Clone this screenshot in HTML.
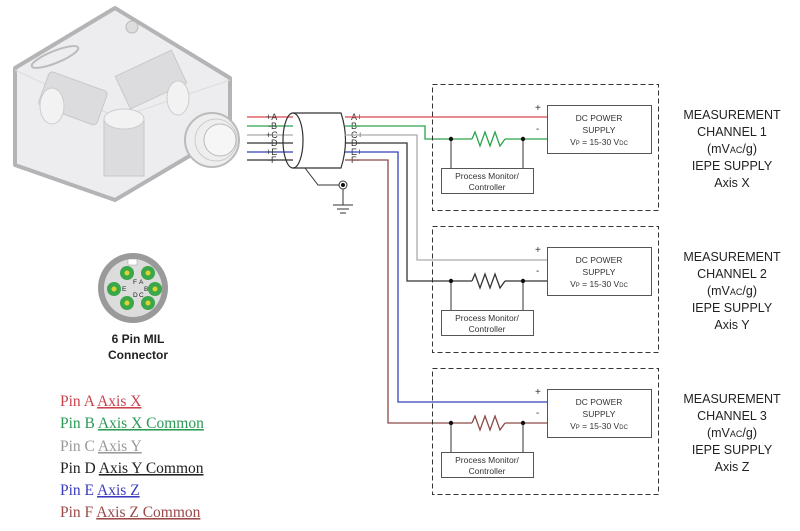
<!DOCTYPE html>
<html><head><style>
body{margin:0;background:#fff;}
svg{display:block;}
.t{font-family:"Liberation Sans",sans-serif;}
.s{font-family:"Liberation Serif",serif;font-size:15.5px;}
</style></head><body>
<svg width="800" height="531" viewBox="0 0 800 531" xmlns="http://www.w3.org/2000/svg">
<!-- sensor -->
<polygon points="115,8 15,68 15,165 115,200 230,132 230,78" fill="#ededef" stroke="#b4b4b6" stroke-width="4" stroke-linejoin="round"/>
<line x1="15" y1="70" x2="118" y2="118" stroke="#dcdcdc"/><line x1="118" y1="118" x2="230" y2="80" stroke="#dcdcdc"/>
<rect x="42" y="80" width="62" height="36" rx="4" fill="#dcdcde" stroke="#c8c8ca" transform="rotate(20 72 98)"/>
<ellipse cx="52" cy="106" rx="12" ry="18" fill="#f2f2f3" stroke="#ccc"/>
<rect x="120" y="62" width="62" height="36" fill="#dcdcde" stroke="#c8c8ca" transform="rotate(-25 150 80)"/>
<ellipse cx="178" cy="98" rx="11" ry="17" fill="#f2f2f3" stroke="#ccc"/>
<rect x="104" y="120" width="40" height="56" fill="#dcdcde" stroke="#c8c8ca"/>
<ellipse cx="124" cy="119" rx="20" ry="10" fill="#f2f2f3" stroke="#ccc"/>
<circle cx="132" cy="27" r="6" fill="#ddd" stroke="#bbb"/>
<ellipse cx="55" cy="57" rx="25" ry="6" fill="none" stroke="#bbb" stroke-width="2" transform="rotate(-22 55 57)"/>
<circle cx="212" cy="140" r="27" fill="#eee" stroke="#bbb" stroke-width="2"/>
<circle cx="216" cy="140" r="21" fill="none" stroke="#ccc"/>
<circle cx="220" cy="140" r="16" fill="#f6f6f6" stroke="#bbb"/>
<!-- cable left wires -->
<g stroke-width="1.3">
<line x1="247" y1="117" x2="293" y2="117" stroke="#d9484f"/>
<line x1="247" y1="126" x2="293" y2="126" stroke="#2aa44b"/>
<line x1="247" y1="135" x2="293" y2="135" stroke="#aaa"/>
<line x1="247" y1="143" x2="293" y2="143" stroke="#333"/>
<line x1="247" y1="152" x2="293" y2="152" stroke="#3442b8"/>
<line x1="247" y1="160" x2="293" y2="160" stroke="#333"/>
</g>
<path d="M293,113 L341,113 Q350,140 341,168 L293,168" fill="#fff" stroke="#333" stroke-width="1.2"/>
<ellipse cx="293" cy="140.5" rx="10" ry="27.5" fill="none" stroke="#333" stroke-width="1.2"/>
<g class="t" font-size="9" fill="#333">
<text x="266" y="120">+A</text><text x="268" y="129">-B</text><text x="266" y="138">+C</text><text x="268" y="146">-D</text><text x="266" y="155">+E</text><text x="268" y="163">-F</text>
<text x="351" y="120">A+</text><text x="351" y="129">B-</text><text x="351" y="138">C+</text><text x="351" y="146">D-</text><text x="351" y="155">E+</text><text x="351" y="163">F-</text>
</g>
<polyline points="305,168 318,185 340,185" fill="none" stroke="#333"/>
<circle cx="343" cy="185" r="4" fill="#fff" stroke="#333"/><circle cx="343" cy="185" r="2" fill="#111"/>
<line x1="343" y1="189" x2="343" y2="205" stroke="#333"/>
<line x1="333" y1="205" x2="353" y2="205" stroke="#333"/><line x1="337" y1="209" x2="349" y2="209" stroke="#333"/><line x1="340" y1="213" x2="346" y2="213" stroke="#333"/>
<!-- wires right -->
<g fill="none" stroke-width="1.3">
<polyline points="345,117 547,117" stroke="#d9484f"/>
<polyline points="345,126 425,126 425,139 472,139" stroke="#2aa44b"/>
<polyline points="505,139 547,139" stroke="#2aa44b"/>
<polyline points="472,139 475,132 480,146 485,132 490,146 495,132 500,146 505,139" stroke="#2aa44b"/>
<polyline points="345,135 417,135 417,260 547,260" stroke="#aaa"/>
<polyline points="345,143 407,143 407,281 472,281" stroke="#333"/>
<polyline points="505,281 547,281" stroke="#333"/>
<polyline points="472,281 475,274 480,288 485,274 490,288 495,274 500,288 505,281" stroke="#333"/>
<polyline points="345,152 398,152 398,402 547,402" stroke="#3442b8"/>
<polyline points="345,160 388,160 388,423 472,423" stroke="#8a4a48"/>
<polyline points="505,423 547,423" stroke="#8a4a48"/>
<polyline points="472,423 475,416 480,430 485,416 490,430 495,416 500,430 505,423" stroke="#8a4a48"/>
</g>
<!-- channels -->
<g id="ch">
<rect x="432.5" y="84.5" width="226" height="126" fill="none" stroke="#333" stroke-dasharray="5,3"/>
<rect x="547.5" y="105.5" width="104" height="48" fill="#fff" stroke="#555"/>
<text x="599" y="121" class="t" font-size="8.5" text-anchor="middle" fill="#333">DC POWER</text>
<text x="599" y="133" class="t" font-size="8.5" text-anchor="middle" fill="#333">SUPPLY</text>
<text x="599" y="145" class="t" font-size="8.5" text-anchor="middle" fill="#333">V<tspan font-size="6">P</tspan> = 15-30 V<tspan font-size="6">DC</tspan></text>
<text x="535" y="111" class="t" font-size="10" fill="#333">+</text>
<text x="536" y="132" class="t" font-size="10" fill="#333">-</text>
<line x1="451" y1="139" x2="451" y2="168" stroke="#333"/>
<line x1="523" y1="139" x2="523" y2="168" stroke="#333"/>
<circle cx="451" cy="139" r="2.2" fill="#111"/><circle cx="523" cy="139" r="2.2" fill="#111"/>
<rect x="441.5" y="168.5" width="92" height="25" fill="#fff" stroke="#555"/>
<text x="487" y="179" class="t" font-size="8.5" text-anchor="middle" fill="#333">Process Monitor/</text>
<text x="487" y="190" class="t" font-size="8.5" text-anchor="middle" fill="#333">Controller</text>
</g>
<use href="#ch" transform="translate(0,142)"/>
<use href="#ch" transform="translate(0,284)"/>
<g class="t" font-size="12.5" fill="#222" text-anchor="middle">
<text x="732" y="119">MEASUREMENT</text><text x="732" y="136">CHANNEL 1</text><text x="732" y="153">(mV<tspan font-size="9">AC</tspan>/g)</text><text x="732" y="170">IEPE SUPPLY</text><text x="732" y="187">Axis X</text>
<text x="732" y="261">MEASUREMENT</text><text x="732" y="278">CHANNEL 2</text><text x="732" y="295">(mV<tspan font-size="9">AC</tspan>/g)</text><text x="732" y="312">IEPE SUPPLY</text><text x="732" y="329">Axis Y</text>
<text x="732" y="403">MEASUREMENT</text><text x="732" y="420">CHANNEL 3</text><text x="732" y="437">(mV<tspan font-size="9">AC</tspan>/g)</text><text x="732" y="454">IEPE SUPPLY</text><text x="732" y="471">Axis Z</text>
</g>
<!-- MIL connector -->
<circle cx="133" cy="288" r="35" fill="#9a9a9a"/>
<circle cx="133" cy="288" r="29" fill="#dcdcdc"/>
<rect x="128" y="259" width="9" height="6" fill="#fff" stroke="#999" stroke-width="0.5"/>
<g fill="#3aa84a"><circle cx="127" cy="273" r="7"/><circle cx="148" cy="273" r="7"/><circle cx="114" cy="289" r="7"/><circle cx="155" cy="289" r="7"/><circle cx="127" cy="303" r="7"/><circle cx="148" cy="303" r="7"/></g>
<g fill="#e0d030"><circle cx="127" cy="273" r="2.5"/><circle cx="148" cy="273" r="2.5"/><circle cx="114" cy="289" r="2.5"/><circle cx="155" cy="289" r="2.5"/><circle cx="127" cy="303" r="2.5"/><circle cx="148" cy="303" r="2.5"/></g>
<g class="t" font-size="6.5" fill="#222"><text x="133" y="284">F</text><text x="139" y="284">A</text><text x="122" y="291">E</text><text x="144" y="291">B</text><text x="133" y="297">D</text><text x="139" y="297">C</text></g>
<text x="138" y="343" class="t" font-size="12" font-weight="bold" text-anchor="middle" fill="#222">6 Pin MIL</text>
<text x="138" y="359" class="t" font-size="12" font-weight="bold" text-anchor="middle" fill="#222">Connector</text>
<!-- legend -->
<g class="s">
<text x="60" y="406" fill="#c8434d">Pin A <tspan text-decoration="underline">Axis X</tspan></text>
<text x="60" y="428" fill="#2a9a55">Pin B <tspan text-decoration="underline">Axis X Common</tspan></text>
<text x="60" y="451" fill="#999">Pin C <tspan text-decoration="underline">Axis Y</tspan></text>
<text x="60" y="473" fill="#222">Pin D <tspan text-decoration="underline">Axis Y Common</tspan></text>
<text x="60" y="495" fill="#3a3ac0">Pin E <tspan text-decoration="underline">Axis Z</tspan></text>
<text x="60" y="517" fill="#9a4a48">Pin F <tspan text-decoration="underline">Axis Z Common</tspan></text>
</g>
</svg>
</body></html>
